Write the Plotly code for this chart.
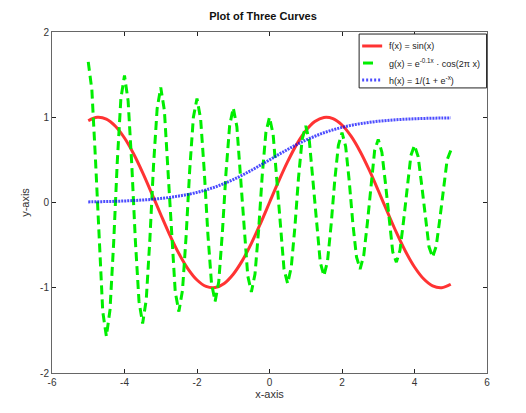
import plotly.graph_objects as go

# sample points
x_smooth = [-5.0, -4.75, -4.5, -4.25, -4.0, -3.75, -3.5, -3.25, -3.0, -2.75, -2.5,
            -2.25, -2.0, -1.75, -1.5, -1.25, -1.0, -0.75, -0.5, -0.25, 0.0,
            0.25, 0.5, 0.75, 1.0, 1.25, 1.5, 1.75, 2.0, 2.25, 2.5,
            2.75, 3.0, 3.25, 3.5, 3.75, 4.0, 4.25, 4.5, 4.75, 5.0]

f_vals = [0.959, 0.999, 0.978, 0.895, 0.757, 0.572, 0.351, 0.108, -0.141, -0.382, -0.599,
          -0.778, -0.909, -0.984, -0.998, -0.949, -0.841, -0.682, -0.479, -0.247, 0.0,
          0.247, 0.479, 0.682, 0.841, 0.949, 0.998, 0.984, 0.909, 0.778, 0.599,
          0.382, 0.141, -0.108, -0.351, -0.572, -0.757, -0.895, -0.978, -0.999, -0.959]

h_vals = [0.007, 0.009, 0.011, 0.014, 0.018, 0.023, 0.029, 0.037, 0.047, 0.060, 0.076,
          0.095, 0.119, 0.148, 0.182, 0.223, 0.269, 0.321, 0.378, 0.438, 0.500,
          0.562, 0.622, 0.679, 0.731, 0.777, 0.818, 0.852, 0.881, 0.905, 0.924,
          0.940, 0.953, 0.963, 0.971, 0.977, 0.982, 0.986, 0.989, 0.991, 0.993]

x_fine = [round(-5 + 0.1 * i, 1) for i in range(101)]

g_vals = [1.65, 1.32, 0.50, -0.49, -1.28, -1.57, -1.26, -0.48, 0.47, 1.22,
          1.49, 1.19, 0.45, -0.45, -1.16, -1.42, -1.14, -0.43, 0.43, 1.10,
          1.35, 1.08, 0.41, -0.40, -1.05, -1.28, -1.03, -0.39, 0.39, 1.00,
          1.22, 0.98, 0.37, -0.37, -0.95, -1.16, -0.93, -0.35, 0.35, 0.90,
          1.11, 0.89, 0.33, -0.33, -0.86, -1.05, -0.84, -0.32, 0.32, 0.82,
          1.00, 0.80, 0.30, -0.30, -0.78, -0.95, -0.76, -0.29, 0.29, 0.74,
          0.90, 0.72, 0.27, -0.27, -0.70, -0.86, -0.69, -0.26, 0.26, 0.67,
          0.82, 0.66, 0.25, -0.25, -0.64, -0.78, -0.62, -0.24, 0.23, 0.61,
          0.74, 0.59, 0.22, -0.22, -0.58, -0.70, -0.56, -0.21, 0.21, 0.55,
          0.67, 0.54, 0.20, -0.20, -0.52, -0.64, -0.51, -0.19, 0.19, 0.50,
          0.61]

x_ticks = [-6, -4, -2, 0, 2, 4, 6]
x_ticklabels = ["-6", "-4", "-2", "0", "2", "4", "6"]
y_ticks = [-2, -1, 0, 1, 2]
y_ticklabels = ["-2", "-1", "0", "1", "2"]

names = ["f(x) = sin(x)",
         "g(x) = e<sup>-0.1x</sup> · cos(2π x)",
         "h(x) = 1/(1 + e<sup>-x</sup>)"]
colors = ["rgba(255,0,0,0.8)", "#00ee00", "rgba(0,0,255,0.7)"]

font = "Liberation Sans, Arial, sans-serif"

fig = go.Figure()
fig.add_trace(go.Scatter(
    x=x_smooth, y=f_vals, mode="lines", name=names[0],
    line=dict(color=colors[0], width=3, shape="spline")))
fig.add_trace(go.Scatter(
    x=x_fine, y=g_vals, mode="lines", name=names[1],
    line=dict(color=colors[1], width=3, dash="9px,5px")))
fig.add_trace(go.Scatter(
    x=x_smooth, y=h_vals, mode="lines", name=names[2],
    line=dict(color=colors[2], width=3, dash="2px,1px", shape="spline")))

# hand-made legend box (plotly's own legend rows are too tall here)
fig.add_shape(type="rect", xref="paper", yref="paper",
              x0=0.706, x1=0.999, y0=0.836, y1=0.994,
              line=dict(color="#222", width=1), fillcolor="white", layer="above")
rows = [0.959, 0.909, 0.859]
samples = [(0.713, 0.759, "solid"), (0.715, 0.738, "solid"), (0.713, 0.759, "2px,2px")]
for i in range(3):
    x0, x1, dash = samples[i]
    fig.add_shape(type="line", xref="paper", yref="paper",
                  x0=x0, x1=x1, y0=rows[i], y1=rows[i], layer="above",
                  line=dict(color=colors[i], width=3, dash=dash))
    fig.add_annotation(xref="paper", yref="paper", x=0.770, y=rows[i],
                       xanchor="left", yanchor="middle", showarrow=False,
                       text=names[i], font=dict(size=9, color="#222"))

axis_style = dict(
    showgrid=False, zeroline=False, showline=True, mirror="ticks",
    linecolor="#666", linewidth=1, ticks="inside", ticklen=4, tickcolor="#222",
    tickfont=dict(size=10, color="#333"), automargin=False,
)

# page body has an 8px margin, so the figure is drawn a little smaller
fig.update_layout(
    width=510, height=397,
    margin=dict(l=44, r=31, t=24, b=32),
    paper_bgcolor="white", plot_bgcolor="white",
    font=dict(family=font, size=10, color="#333"),
    title=dict(text="<b>Plot of Three Curves</b>", x=0.5, xanchor="center",
               y=0.98, yanchor="middle", font=dict(size=11, color="#111")),
    xaxis=dict(range=[-6, 6], tickvals=x_ticks, ticktext=x_ticklabels,
               title=dict(text="x-axis", standoff=3, font=dict(size=11)), **axis_style),
    yaxis=dict(range=[-2, 2], tickvals=y_ticks, ticktext=y_ticklabels,
               title=dict(text="y-axis", standoff=8, font=dict(size=11)), **axis_style),
    showlegend=False,
)

fig.write_html("out.html")
